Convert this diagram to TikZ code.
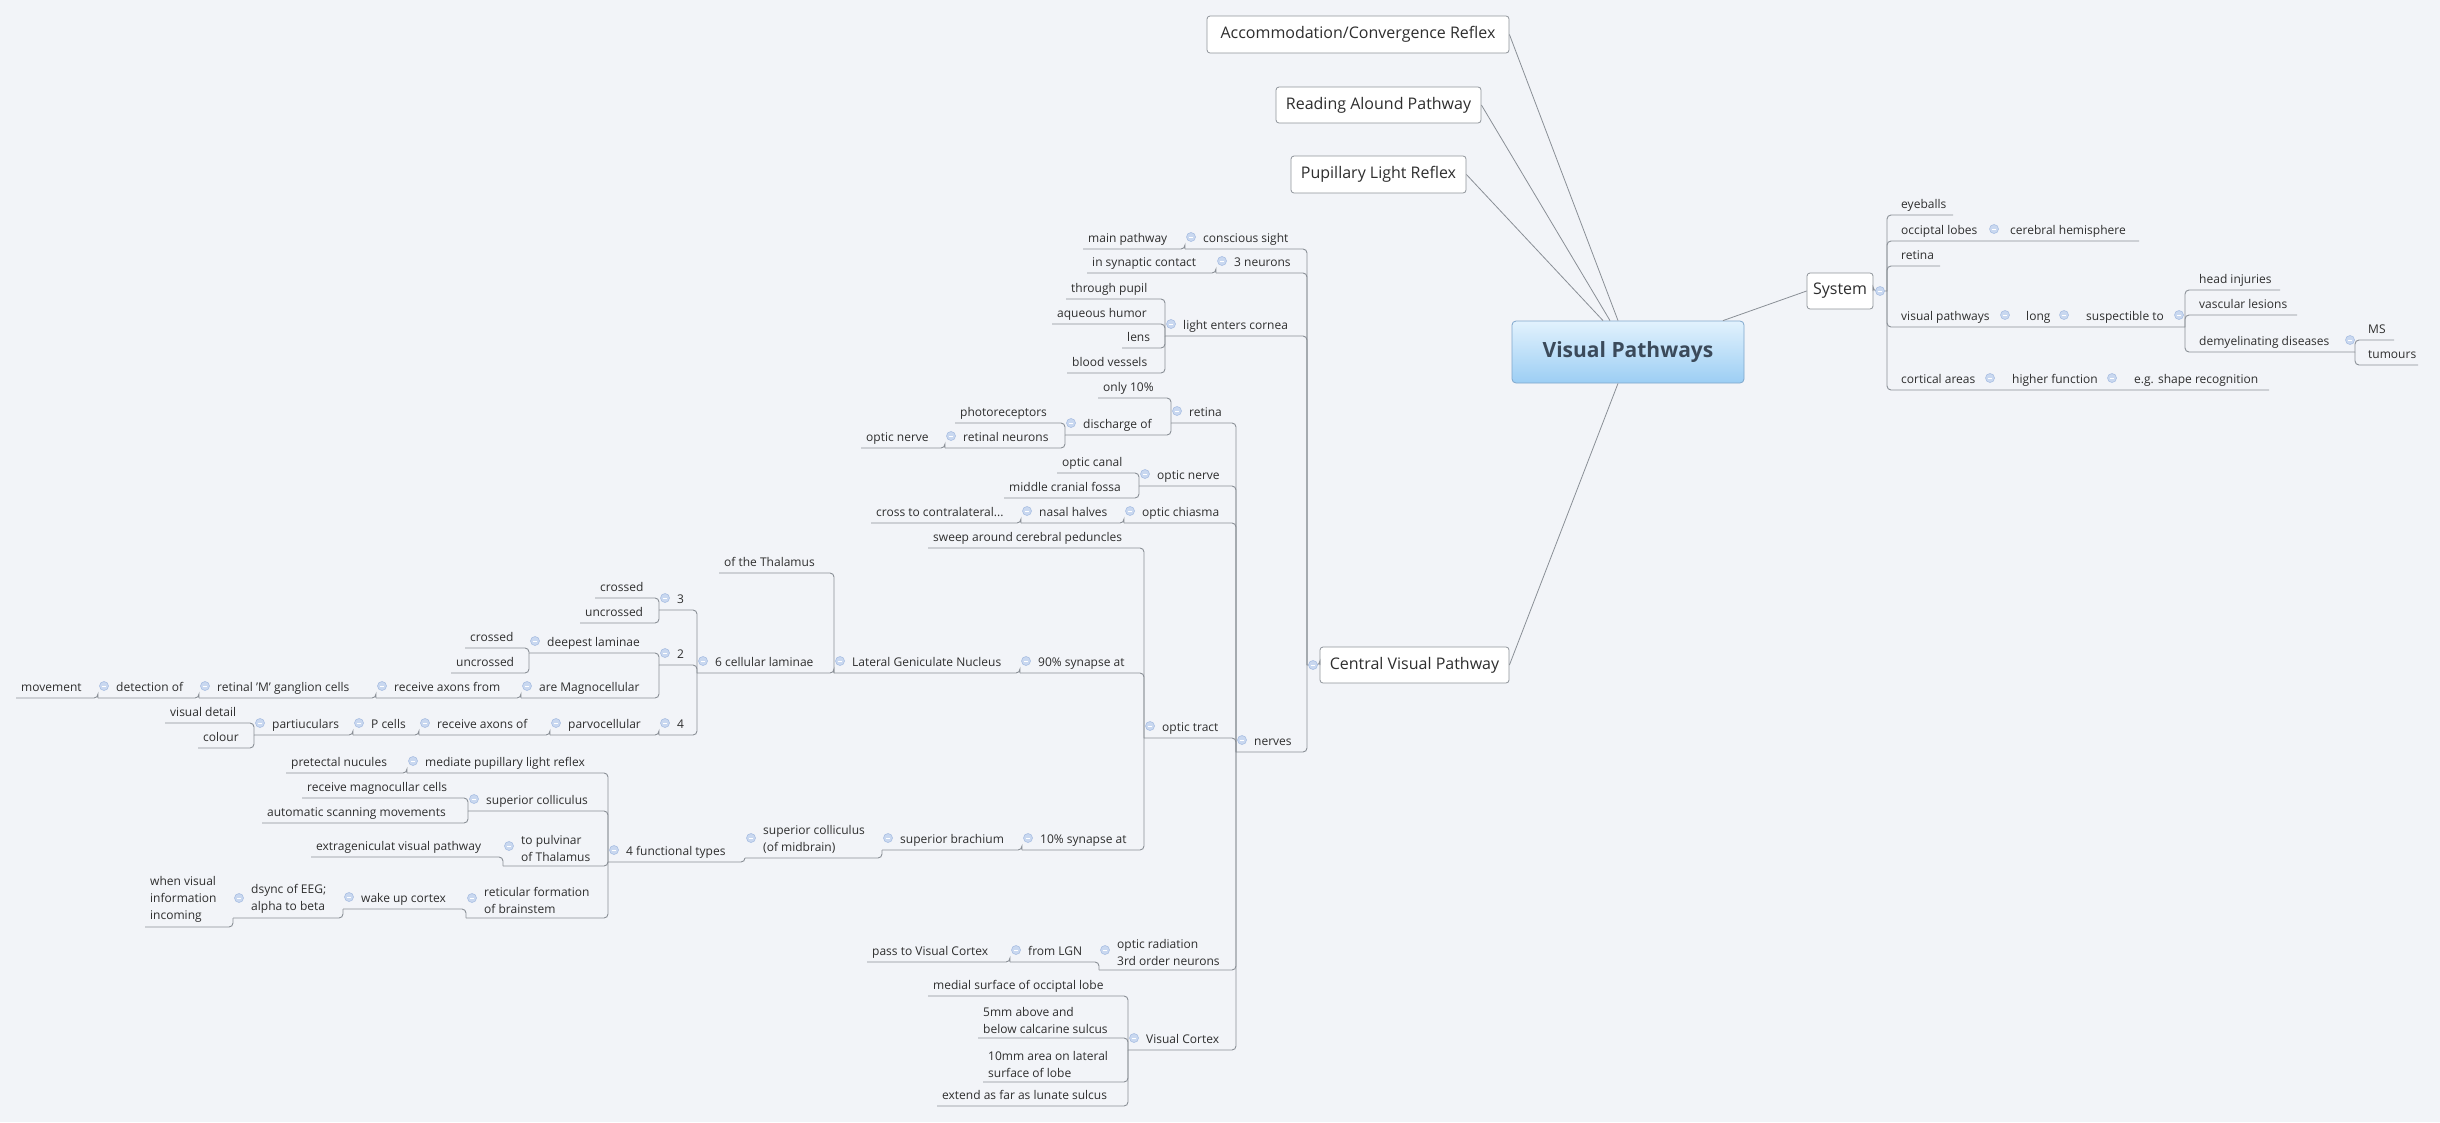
\documentclass[tikz,border=0pt]{standalone}
\usepackage{fontspec}
\setmainfont{Open Sans}
\usetikzlibrary{calc}
\definecolor{bgc}{HTML}{F2F4F8}
\definecolor{lnc}{HTML}{8A8F96}
\definecolor{tcol}{HTML}{2E2E2E}
\definecolor{cfill}{HTML}{C9D8F0}
\definecolor{cdraw}{HTML}{A9BFE2}
\definecolor{boxline}{HTML}{8F949A}
\definecolor{rtop}{HTML}{E2F2FD}
\definecolor{rbot}{HTML}{9CCEF4}
\definecolor{rline}{HTML}{7FA7CC}
\definecolor{rtext}{HTML}{3B4A5A}
\newcommand\vpleaf[4]{\node[txt] (#1) at (#2,#3-7) {#4};}
\newcommand\vpnode[4]{\node[txt] (#1) at (#2,#3-7) {#4};\node[cir] (#1c) at (#2-12,#3-12) {};}
\newcommand\vpleafB[4]{\node[txtB] (#1) at (#2,#3-4) {#4};}
\newcommand\vpnodeB[4]{\node[txtB] (#1) at (#2,#3-4) {#4};\node[cir] (#1c) at (#2-12,#3-20) {};}
\newcommand\vpcir[3]{\node[cir] (#1) at (#2,#3) {};}
\newcommand\vplk[4]{\draw[ln] (#1,#2) -- (#3,#2) -- (#3,#4);}
\newcommand\vprk[4]{\draw[ln] (#1,#2) -- (#1,#4) -- (#3,#4);}
\begin{document}
\begin{tikzpicture}[x=1pt,y=-1pt,
  ln/.style={draw=lnc,line width=0.9pt,rounded corners=4pt},
  txt/.style={anchor=base west,inner sep=0pt,font=\fontsize{12}{18}\selectfont,text=tcol},
  txtB/.style={anchor=south west,inner sep=0pt,align=left,font=\fontsize{12}{17}\selectfont,text=tcol},
  cir/.style={circle,fill=cfill,draw=cdraw,line width=0.6pt,inner sep=0pt,minimum size=9pt,
    path picture={\draw[white,line width=0.9pt] ([xshift=2.3pt]path picture bounding box.west) -- ([xshift=-2.3pt]path picture bounding box.east);}},
  box/.style={draw=boxline,fill=white,rounded corners=3pt,line width=0.8pt,inner sep=0pt,font=\fontsize{16}{19}\selectfont,text=tcol}]
\fill[bgc] (0,0) rectangle (2440,1122);
\useasboundingbox (0,0) rectangle (2440,1122);
% main boxes
\node[draw=rline,line width=0.8pt,rounded corners=4pt,top color=rtop,bottom color=rbot,minimum width=232pt,minimum height=62pt,inner sep=0pt,font=\fontsize{21}{24}\selectfont\bfseries,text=rtext] (root) at (1628,352) {Visual Pathways};
\node[box,minimum width=302pt,minimum height=37pt] (acc) at (1358,34.5) {Accommodation/Convergence Reflex};
\node[box,minimum width=205pt,minimum height=36pt] (read) at (1378.5,105) {Reading Alound Pathway};
\node[box,minimum width=175pt,minimum height=37pt] (pup) at (1378.5,174.5) {Pupillary Light Reflex};
\node[box,minimum width=189pt,minimum height=36pt] (cvp) at (1414.5,665) {Central Visual Pathway};
\node[box,minimum width=66pt,minimum height=36pt] (sys) at (1840,291) {System};
\draw[lnc,line width=0.8pt] ($(root.north)+(-10,0)$) -- (acc.east);
\draw[lnc,line width=0.8pt] ($(root.north)+(-18,0)$) -- (read.east);
\draw[lnc,line width=0.8pt] ($(root.north)+(-25,0)$) -- (pup.east);
\draw[lnc,line width=0.8pt] ($(root.south)+(-10,0)$) -- (cvp.east);
\draw[lnc,line width=0.8pt] ($(root.north)+(95,0)$) -- (sys.west);
% ---------- left tree connectors
\vplk{1083}{249}{1185}{249}\vplk{1185}{249}{1307}{665}
\vplk{1087}{273}{1216}{273}\vplk{1216}{273}{1307}{665}
\vplk{1165}{336}{1307}{665}
\vplk{1066}{299}{1165}{336}\vplk{1052}{324}{1165}{336}\vplk{1122}{348}{1165}{336}\vplk{1067}{373}{1165}{336}
\vplk{1236}{752}{1307}{665}
\vplk{1307}{665}{1320}{665}
\vplk{1171}{423}{1236}{752}\vplk{1098}{398}{1171}{423}\vplk{1065}{435}{1171}{423}
\vplk{955}{423}{1065}{435}\vplk{945}{448}{1065}{435}\vplk{861}{448}{945}{448}
\vplk{1139}{486}{1236}{752}\vplk{1057}{473}{1139}{486}\vplk{1004}{498}{1139}{486}
\vplk{1124}{523}{1236}{752}\vplk{1021}{523}{1124}{523}\vplk{871}{523}{1021}{523}
\vplk{1144}{738}{1236}{752}
\vplk{1099}{970}{1236}{752}\vplk{1010}{962}{1099}{970}\vplk{867}{962}{1010}{962}
\vplk{1128}{1050}{1236}{752}
\vplk{928}{996}{1128}{1050}\vplk{978}{1038}{1128}{1050}\vplk{983}{1082}{1128}{1050}\vplk{937}{1106}{1128}{1050}
\vplk{928}{548}{1144}{738}\vplk{1020}{673}{1144}{738}\vplk{1022}{850}{1144}{738}
\vplk{834}{673}{1020}{673}\vplk{719}{573}{834}{673}\vplk{697}{673}{834}{673}
\vplk{659}{610}{697}{673}\vplk{659}{665}{697}{673}\vplk{659}{735}{697}{673}
\vplk{595}{598}{659}{610}\vplk{580}{623}{659}{610}
\vplk{529}{653}{659}{665}\vplk{521}{698}{659}{665}
\vplk{465}{648}{529}{653}\vplk{451}{673}{529}{653}
\vplk{376}{698}{521}{698}\vplk{199}{698}{376}{698}\vplk{98}{698}{199}{698}\vplk{16}{698}{98}{698}
\vplk{550}{735}{659}{735}\vplk{419}{735}{550}{735}\vplk{353}{735}{419}{735}\vplk{254}{735}{353}{735}
\vplk{165}{723}{254}{735}\vplk{198}{748}{254}{735}
\vplk{882}{850}{1022}{850}\vplk{745}{858}{882}{850}\vplk{608}{862}{745}{858}
\vplk{407}{773}{608}{862}\vplk{286}{773}{407}{773}
\vplk{468}{811}{608}{862}\vplk{302}{798}{468}{811}\vplk{262}{823}{468}{811}
\vplk{503}{866}{608}{862}\vplk{311}{857}{503}{866}
\vplk{466}{918}{608}{862}\vplk{343}{909}{466}{918}\vplk{233}{918}{343}{909}\vplk{145}{927}{233}{918}
% ---------- left tree texts
\vpnode{cs}{1203}{249}{conscious sight}\vpleaf{mp}{1088}{249}{main pathway}
\vpnode{tn}{1234}{273}{3 neurons}\vpleaf{isc}{1092}{273}{in synaptic contact}
\vpnode{lec}{1183}{336}{light enters cornea}
\vpleaf{tp}{1071}{299}{through pupil}\vpleaf{ah}{1057}{324}{aqueous humor}\vpleaf{lens}{1127}{348}{lens}\vpleaf{bv}{1072}{373}{blood vessels}
\vpnode{nerves}{1254}{752}{nerves}
\vpnode{ret}{1189}{423}{retina}\vpleaf{o10}{1103}{398}{only 10\%}\vpnode{dis}{1083}{435}{discharge of}
\vpleaf{pho}{960}{423}{photoreceptors}\vpnode{rn}{963}{448}{retinal neurons}\vpleaf{onl}{866}{448}{optic nerve}
\vpnode{on}{1157}{486}{optic nerve}\vpleaf{oc}{1062}{473}{optic canal}\vpleaf{mcf}{1009}{498}{middle cranial fossa}
\vpnode{och}{1142}{523}{optic chiasma}\vpnode{nh}{1039}{523}{nasal halves}\vpleaf{ctc}{876}{523}{cross to contralateral...}
\vpnode{ot}{1162}{738}{optic tract}
\vpleaf{sw}{933}{548}{sweep around cerebral peduncles}
\vpnode{s90}{1038}{673}{90\% synapse at}\vpnode{lgn}{852}{673}{Lateral Geniculate Nucleus}
\vpleaf{oth}{724}{573}{of the Thalamus}\vpnode{scl}{715}{673}{6 cellular laminae}
\vpnode{l3}{677}{610}{3}\vpleaf{cr1}{600}{598}{crossed}\vpleaf{uc1}{585}{623}{uncrossed}
\vpnode{l2}{677}{665}{2}\vpnode{dl}{547}{653}{deepest laminae}\vpleaf{cr2}{470}{648}{crossed}\vpleaf{uc2}{456}{673}{uncrossed}
\vpnode{am}{539}{698}{are Magnocellular}\vpnode{raf}{394}{698}{receive axons from}\vpnode{rmg}{217}{698}{retinal 'M' ganglion cells}
\vpnode{det}{116}{698}{detection of}\vpleaf{mov}{21}{698}{movement}
\vpnode{l4}{677}{735}{4}\vpnode{par}{568}{735}{parvocellular}\vpnode{rao}{437}{735}{receive axons of}\vpnode{pc}{371}{735}{P cells}
\vpnode{pti}{272}{735}{partiuculars}\vpleaf{vd}{170}{723}{visual detail}\vpleaf{col}{203}{748}{colour}
\vpnode{s10}{1040}{850}{10\% synapse at}\vpnode{sb}{900}{850}{superior brachium}
\vpnodeB{scm}{763}{858}{superior colliculus\\(of midbrain)}\vpnode{fft}{626}{862}{4 functional types}
\vpnode{mpl}{425}{773}{mediate pupillary light reflex}\vpleaf{pn}{291}{773}{pretectal nucules}
\vpnode{sc}{486}{811}{superior colliculus}\vpleaf{rmc}{307}{798}{receive magnocullar cells}\vpleaf{asm}{267}{823}{automatic scanning movements}
\vpnodeB{pul}{521}{866}{to pulvinar\\of Thalamus}\vpleaf{evp}{316}{857}{extrageniculat visual pathway}
\vpnodeB{rfb}{484}{918}{reticular formation\\of brainstem}\vpnode{wuc}{361}{909}{wake up cortex}
\vpnodeB{dsy}{251}{918}{dsync of EEG;\\alpha to beta}\vpleafB{wvi}{150}{927}{when visual\\information\\incoming}
\vpnodeB{orad}{1117}{970}{optic radiation\\3rd order neurons}\vpnode{flgn}{1028}{962}{from LGN}\vpleaf{pvc}{872}{962}{pass to Visual Cortex}
\vpnode{vc}{1146}{1050}{Visual Cortex}
\vpleaf{msf}{933}{996}{medial surface of occiptal lobe}\vpleafB{fmm}{983}{1038}{5mm above and\\below calcarine sulcus}
\vpleafB{tmm}{988}{1082}{10mm area on lateral\\surface of lobe}\vpleaf{ext}{942}{1106}{extend as far as lunate sulcus}
\vpcir{cvpc}{1313}{665}
% ---------- right tree
\vprk{1873}{291}{1887}{291}
\vprk{1887}{291}{1953}{215}\vprk{1887}{291}{2139}{241}\vprk{1887}{291}{1940}{266}
\vprk{1887}{291}{2185}{327}\vprk{1887}{291}{2269}{390}
\vprk{2185}{327}{2280}{290}\vprk{2185}{327}{2297}{315}\vprk{2185}{327}{2355}{352}
\vprk{2355}{352}{2394}{340}\vprk{2355}{352}{2418}{365}
\vpcir{sysc}{1880}{291}
\vpleaf{eye}{1901}{215}{eyeballs}
\vpleaf{ocl}{1901}{241}{occiptal lobes}\vpcir{oclc}{1994}{229}\vpleaf{ch}{2010}{241}{cerebral hemisphere}
\vpleaf{rret}{1901}{266}{retina}
\vpleaf{vpw}{1901}{327}{visual pathways}\vpcir{vpwc}{2005}{315}\vpleaf{long}{2026}{327}{long}\vpcir{longc}{2064}{315}
\vpleaf{sus}{2086}{327}{suspectible to}\vpcir{susc}{2179}{315}
\vpleaf{hi}{2199}{290}{head injuries}\vpleaf{vl}{2199}{315}{vascular lesions}
\vpleaf{dd}{2199}{352}{demyelinating diseases}\vpcir{ddc}{2350}{340}
\vpleaf{ms}{2368}{340}{MS}\vpleaf{tum}{2368}{365}{tumours}
\vpleaf{ca}{1901}{390}{cortical areas}\vpcir{cac}{1990}{378}\vpleaf{hf}{2012}{390}{higher function}\vpcir{hfc}{2112}{378}
\vpleaf{esr}{2134}{390}{e.g. shape recognition}
\end{tikzpicture}
\end{document}
